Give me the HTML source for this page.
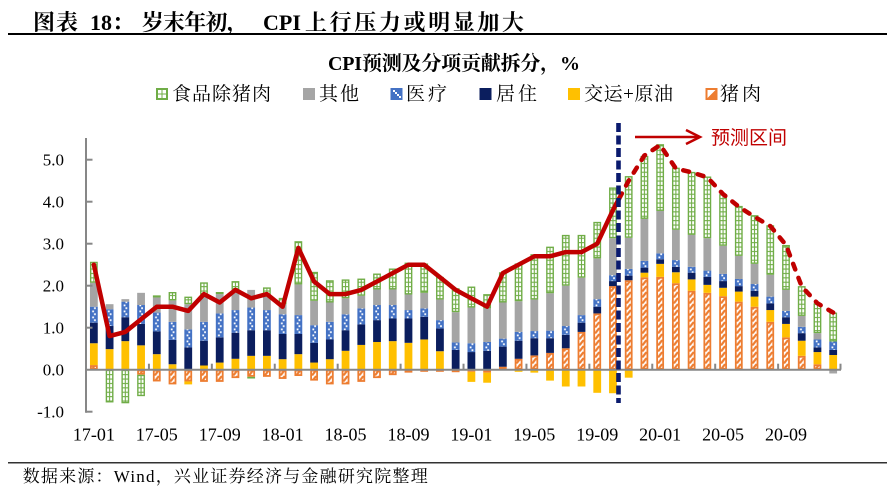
<!DOCTYPE html>
<html><head><meta charset="utf-8">
<style>
html,body{margin:0;padding:0;background:#fff;}
svg{display:block;}
.sr{font-family:"Liberation Serif","Noto Serif CJK SC",serif;}
.ss{font-family:"Liberation Sans","Noto Sans CJK SC",sans-serif;}
</style></head><body>
<svg id="c" width="892" height="494" viewBox="0 0 892 494" xmlns="http://www.w3.org/2000/svg">
<defs>
 <pattern id="gr" patternUnits="userSpaceOnUse" x="86" y="369.7" width="15.73" height="4.4">
   <rect width="15.73" height="4.4" fill="#fff"/>
   <rect x="0" y="0" width="15.73" height="1.1" fill="#70AD47"/>
   <rect x="7.315" y="0" width="1.1" height="4.4" fill="#70AD47"/>
 </pattern>
 <pattern id="md" patternUnits="userSpaceOnUse" x="86" y="369.7" width="15.73" height="6">
   <rect width="15.73" height="6" fill="#4472C4"/>
   <rect x="6.2" y="0.8" width="1.8" height="1.8" fill="#fff"/>
   <rect x="8" y="3.6" width="1.8" height="1.8" fill="#fff"/>
 </pattern>
 <pattern id="pk" patternUnits="userSpaceOnUse" x="86" y="369.7" width="15.73" height="6">
   <rect width="15.73" height="6" fill="#fff"/>
   <path d="M5.0 6.8 L10.8 -0.8" stroke="#ED7D31" stroke-width="2.2"/>
 </pattern>
</defs>

<!-- Title -->
<g class="sr" font-size="22" font-weight="bold" fill="#000">
 <text x="33" y="30" textLength="45" lengthAdjust="spacing">图表</text>
 <text x="90" y="30">18：</text>
 <text x="141.7" y="30" textLength="107" lengthAdjust="spacing">岁末年初，</text>
 <text x="263" y="30">CPI</text>
 <text x="305" y="30" textLength="219" lengthAdjust="spacing">上行压力或明显加大</text>
</g>
<rect x="8" y="33" width="879" height="2" fill="#000"/>

<!-- Subtitle -->
<text class="sr" x="328" y="70" font-size="20" font-weight="bold" textLength="252" lengthAdjust="spacing">CPI预测及分项贡献拆分，%</text>

<!-- Legend -->
<g>
 <rect x="156" y="88" width="12" height="12" fill="#70AD47"/>
 <rect x="158" y="90" width="3.5" height="3.5" fill="#fff"/>
 <rect x="162.5" y="90" width="3.5" height="3.5" fill="#fff"/>
 <rect x="158" y="94.5" width="3.5" height="3.5" fill="#fff"/>
 <rect x="162.5" y="94.5" width="3.5" height="3.5" fill="#fff"/>
 <rect x="303" y="88" width="12" height="12" fill="#A5A5A5"/>
 <rect x="390.5" y="88" width="12" height="12" fill="#4472C4"/>
 <rect x="393" y="90" width="2" height="2" fill="#fff"/>
 <rect x="395" y="92" width="2" height="2" fill="#fff"/>
 <rect x="397" y="94" width="2" height="2" fill="#fff"/>
 <rect x="399" y="96" width="2" height="2" fill="#fff"/>
 <rect x="479.5" y="88" width="12" height="12" fill="#0B1E5E"/>
 <rect x="568" y="88" width="12" height="12" fill="#FFC000"/>
 <rect x="705.5" y="88" width="12" height="12" fill="#ED7D31"/>
 <path d="M707.5 90 H715.5 L707.5 98 Z" fill="#fff"/>
</g>
<g class="sr" font-size="19" fill="#000">
 <text x="172" y="100" textLength="99" lengthAdjust="spacing">食品除猪肉</text>
 <text x="319" y="100" textLength="40" lengthAdjust="spacing">其他</text>
 <text x="406" y="100" textLength="41" lengthAdjust="spacing">医疗</text>
 <text x="496" y="100" textLength="41" lengthAdjust="spacing">居住</text>
 <text x="584" y="100" textLength="89" lengthAdjust="spacing">交运+原油</text>
 <text x="720" y="100" textLength="41" lengthAdjust="spacing">猪肉</text>
</g>

<!-- Bars -->
<g id="bars"></g>

<!-- Axes -->
<g stroke="#878787" stroke-width="2" fill="none">
 <line x1="86" y1="138" x2="86" y2="412.7"/>
 <line x1="85" y1="369.7" x2="841" y2="369.7"/>
 <line x1="86" y1="159.7" x2="92.5" y2="159.7"/>
 <line x1="86" y1="201.7" x2="92.5" y2="201.7"/>
 <line x1="86" y1="243.7" x2="92.5" y2="243.7"/>
 <line x1="86" y1="285.7" x2="92.5" y2="285.7"/>
 <line x1="86" y1="327.7" x2="92.5" y2="327.7"/>
 <line x1="86" y1="411.7" x2="92.5" y2="411.7"/>
 <line x1="148.92" y1="363.7" x2="148.92" y2="369.7"/>
 <line x1="211.84" y1="363.7" x2="211.84" y2="369.7"/>
 <line x1="274.76" y1="363.7" x2="274.76" y2="369.7"/>
 <line x1="337.68" y1="363.7" x2="337.68" y2="369.7"/>
 <line x1="400.6" y1="363.7" x2="400.6" y2="369.7"/>
 <line x1="463.52" y1="363.7" x2="463.52" y2="369.7"/>
 <line x1="526.44" y1="363.7" x2="526.44" y2="369.7"/>
 <line x1="589.36" y1="363.7" x2="589.36" y2="369.7"/>
 <line x1="652.28" y1="363.7" x2="652.28" y2="369.7"/>
 <line x1="715.2" y1="363.7" x2="715.2" y2="369.7"/>
 <line x1="778.12" y1="363.7" x2="778.12" y2="369.7"/>
 <line x1="840.5" y1="363.7" x2="840.5" y2="369.7"/>
</g>

<!-- Y labels -->
<g class="sr" font-size="17" fill="#000" text-anchor="end">
 <text x="64" y="165.5">5.0</text>
 <text x="64" y="207.5">4.0</text>
 <text x="64" y="249.5">3.0</text>
 <text x="64" y="291.5">2.0</text>
 <text x="64" y="333.5">1.0</text>
 <text x="64" y="375.5">0.0</text>
 <text x="64" y="417.5">-1.0</text>
</g>

<!-- X labels -->
<g class="sr" font-size="18" fill="#000" text-anchor="middle">
 <text x="93.87" y="440.5">17-01</text>
 <text x="156.79" y="440.5">17-05</text>
 <text x="219.71" y="440.5">17-09</text>
 <text x="282.63" y="440.5">18-01</text>
 <text x="345.55" y="440.5">18-05</text>
 <text x="408.46" y="440.5">18-09</text>
 <text x="471.39" y="440.5">19-01</text>
 <text x="534.31" y="440.5">19-05</text>
 <text x="597.23" y="440.5">19-09</text>
 <text x="660.15" y="440.5">20-01</text>
 <text x="723.07" y="440.5">20-05</text>
 <text x="785.99" y="440.5">20-09</text>
</g>

<!-- Lines -->
<polyline id="solid" fill="none" stroke="#C00000" stroke-width="4.5" stroke-linejoin="round" stroke-linecap="round" points=""/>
<polyline id="dash" fill="none" stroke="#C00000" stroke-width="4.5" stroke-linejoin="round" stroke-linecap="round" stroke-dasharray="6,9" points=""/>

<!-- vertical forecast divider -->
<line x1="618.5" y1="123" x2="618.5" y2="403" stroke="#0A1A6E" stroke-width="4.6" stroke-dasharray="9,3.5"/>

<!-- arrow -->
<line x1="635" y1="137" x2="699" y2="137" stroke="#C00000" stroke-width="2.5"/>
<polyline points="686,130 700,137 686,144" fill="none" stroke="#C00000" stroke-width="2.5" stroke-linejoin="miter"/>
<text class="ss" x="711" y="144" font-size="19" fill="#C00000" textLength="76" lengthAdjust="spacing">预测区间</text>

<!-- Footer -->
<rect x="8" y="462.2" width="879" height="1.2" fill="#000"/>
<text class="sr" x="22.7" y="482" font-size="17" fill="#000" textLength="405" lengthAdjust="spacing">数据来源：Wind，兴业证券经济与金融研究院整理</text>
</svg>

<script>
(function(){
const D=[
[0.11,0.52,0.49,0.38,0.57,0.5],
[0,0.49,0.55,0.4,0.12,-0.78],
[0,0.68,0.57,0.37,0.06,-0.8],
[-0.12,0.58,0.51,0.45,0.29,-0.51],
[-0.28,0.37,0.54,0.45,0.36,0.05],
[-0.35,0.13,0.58,0.43,0.51,0.2],
[-0.28,-0.07,0.53,0.43,0.6,0.18],
[-0.29,0.1,0.59,0.45,0.65,0.29],
[-0.29,0.17,0.6,0.57,0.46,0.05],
[-0.2,0.26,0.62,0.54,0.49,0.2],
[-0.17,0.33,0.61,0.54,0.42,-0.04],
[-0.17,0.33,0.61,0.48,0.32,0.22],
[-0.22,0.25,0.6,0.47,0.24,0.15],
[-0.15,0.37,0.48,0.45,0.73,1.03],
[-0.26,0.17,0.47,0.42,0.58,0.69],
[-0.35,0.25,0.47,0.42,0.46,0.53],
[-0.35,0.45,0.49,0.38,0.38,0.45],
[-0.29,0.59,0.49,0.38,0.3,0.41],
[-0.2,0.66,0.52,0.36,0.37,0.38],
[-0.13,0.68,0.54,0.32,0.37,0.5],
[-0.07,0.64,0.58,0.2,0.37,0.76],
[-0.05,0.72,0.54,0.2,0.37,0.7],
[-0.05,0.44,0.54,0.2,0.49,0.54],
[-0.06,0,0.47,0.18,0.72,0.57],
[-0.05,-0.24,0.42,0.21,0.85,0.5],
[-0.07,-0.24,0.45,0.21,0.8,0.34],
[0.07,0,0.48,0.19,0.86,0.72],
[0.26,-0.05,0.43,0.21,0.73,0.9],
[0.34,-0.07,0.41,0.17,0.75,1.08],
[0.4,-0.26,0.35,0.18,0.89,1.11],
[0.51,-0.4,0.32,0.21,0.96,1.21],
[0.9,-0.4,0.22,0.18,0.89,1.02],
[1.34,-0.55,0.16,0.18,0.97,0.87],
[1.99,-0.56,0.12,0.14,0.88,1.21],
[2.13,-0.19,0.11,0.16,0.74,1.47],
[2.2,0.11,0.12,0.16,1.0,1.5],
[2.21,0.31,0.11,0.14,1.01,1.59],
[2.06,0.26,0.13,0.16,0.72,1.48],
[1.88,0.27,0.16,0.14,0.76,1.5],
[1.83,0.19,0.19,0.15,0.77,1.47],
[1.75,0.2,0.16,0.17,0.67,1.23],
[1.62,0.24,0.13,0.17,0.55,1.19],
[1.5,0.24,0.14,0.16,0.48,1.16],
[1.14,0.28,0.16,0.16,0.52,1.18],
[0.77,0.32,0.16,0.15,0.5,1.07],
[0.33,0.36,0.18,0.15,0.26,0.71],
[0.13,0.29,0.11,0.19,0.15,0.71],
[0,0.35,0.12,0.2,-0.09,0.69]];
const L=[2.5,0.8,0.9,1.2,1.5,1.5,1.4,1.8,1.6,1.9,1.7,1.8,
1.5,2.9,2.1,1.8,1.8,1.9,2.1,2.3,2.5,2.5,2.2,1.9,
1.7,1.5,2.3,2.5,2.7,2.7,2.8,2.8,3.0,3.8,4.5,5.1,
5.35,4.79,4.70,4.58,4.18,3.88,3.64,3.42,2.97,1.98,1.58,1.36];
const X0=86,ST=15.73,Y0=369.7,K=42,BW=7.8;
const fills=['url(#pk)','#FFC000','#0B1E5E','url(#md)','#A5A5A5','url(#gr)'];
const strokes=['#ED7D31',null,null,null,null,'#70AD47'];
const sws=[1.8,0,0,0,0,1.4];
let s='';
D.forEach((d,i)=>{
  const cx=X0+ST*(i+0.5), x=cx-BW/2;
  let pos=0,neg=0;
  d.forEach((v,j)=>{
    if(v===0)return;
    let a,b;
    if(v>0){a=pos;b=pos+v;pos=b;}else{a=neg;b=neg+v;neg=b;}
    const y1=Y0-Math.max(a,b)*K, y2=Y0-Math.min(a,b)*K;
    if(strokes[j]){
      const sw=sws[j];
      s+='<rect x="'+(x+sw/2).toFixed(2)+'" y="'+(y1+sw/2).toFixed(2)+'" width="'+(BW-sw).toFixed(2)+'" height="'+Math.max(0.1,y2-y1-sw).toFixed(2)+'" fill="'+fills[j]+'" stroke="'+strokes[j]+'" stroke-width="'+sw+'"/>';
    } else {
      s+='<rect x="'+x.toFixed(2)+'" y="'+y1.toFixed(2)+'" width="'+BW+'" height="'+(y2-y1).toFixed(2)+'" fill="'+fills[j]+'"/>';
    }
  });
});
document.getElementById('bars').innerHTML=s;
const P=L.map((v,i)=>[X0+ST*(i+0.5),Y0-v*K]);
const sx=619;
const t=(sx-P[33][0])/ST;
const sy=P[33][1]+(P[34][1]-P[33][1])*t;
const sol=P.slice(0,34).concat([[sx,sy]]);
const das=[[sx,sy]].concat(P.slice(34));
const f=a=>a.map(p=>p[0].toFixed(2)+','+p[1].toFixed(2)).join(' ');
document.getElementById('solid').setAttribute('points',f(sol));
document.getElementById('dash').setAttribute('points',f(das));
})();
</script>
</body></html>
